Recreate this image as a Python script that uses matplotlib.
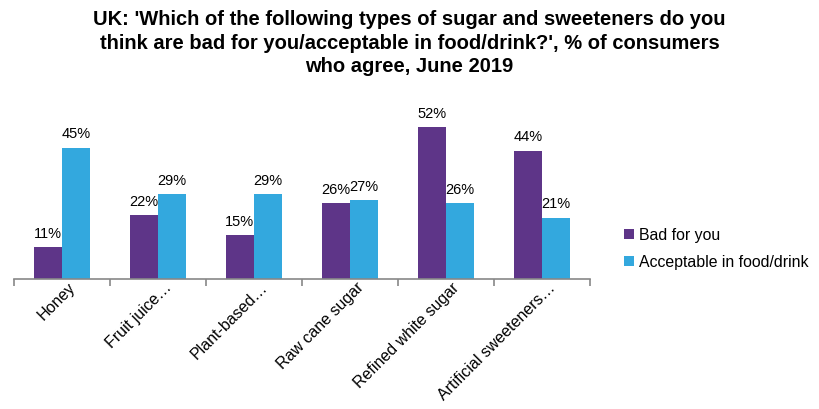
import numpy as np
import matplotlib.pyplot as plt
import matplotlib.transforms as mtransforms

plt.rcParams['font.family'] = ['Liberation Sans', 'DejaVu Sans']

categories = ['Honey', 'Fruit juice…', 'Plant-based…', 'Raw cane sugar',
              'Refined white sugar', 'Artificial sweeteners…']
bad = [11, 22, 15, 26, 52, 44]
acceptable = [45, 29, 29, 27, 26, 21]

purple = '#5E3588'
blue = '#33A8DE'

fig = plt.figure(figsize=(8.19, 4.10), dpi=100)
ax = fig.add_axes([0.017, 0.317, 0.703, 0.427])

x = np.arange(len(categories))
w = 0.29
b1 = ax.bar(x - w / 2, bad, w, color=purple, label='Bad for you')
b2 = ax.bar(x + w / 2, acceptable, w, color=blue, label='Acceptable in food/drink')

for bars in (b1, b2):
    for r in bars:
        ax.text(r.get_x() + r.get_width() / 2, r.get_height() + 2.5,
                f'{r.get_height():.0f}%', ha='center', va='bottom', fontsize=10.5)

ax.set_xlim(-0.5, len(categories) - 0.5)
ax.set_ylim(0, 60)
ax.set_yticks([])
for s in ['top', 'right', 'left']:
    ax.spines[s].set_visible(False)
ax.spines['bottom'].set_color('#888888')
ax.spines['bottom'].set_linewidth(1.2)

ax.set_xticks(x)
ax.set_xticklabels(categories, rotation=45, ha='right', rotation_mode='anchor', fontsize=11.5)
ax.tick_params(axis='x', which='major', length=0, pad=0)
offset = mtransforms.ScaledTranslation(6 / 100, 0, fig.dpi_scale_trans)
for lab in ax.get_xticklabels():
    lab.set_transform(lab.get_transform() + offset)
ax.set_xticks(np.arange(-0.5, len(categories)), minor=True)
ax.tick_params(axis='x', which='minor', length=5, color='#888888', width=1.2)

fig.legend(handles=[b1, b2], loc='upper left', bbox_to_anchor=(0.745, 0.478),
           frameon=False, fontsize=11.4, handlelength=0.6, handleheight=0.6,
           handletextpad=0.3, labelspacing=0.75)

fig.suptitle("UK: 'Which of the following types of sugar and sweeteners do you\n"
             "think are bad for you/acceptable in food/drink?', % of consumers\n"
             "who agree, June 2019", x=0.5, y=0.975, fontsize=14.5,
             fontweight='bold', linespacing=1.3)

fig.savefig('out.png', dpi=100)
